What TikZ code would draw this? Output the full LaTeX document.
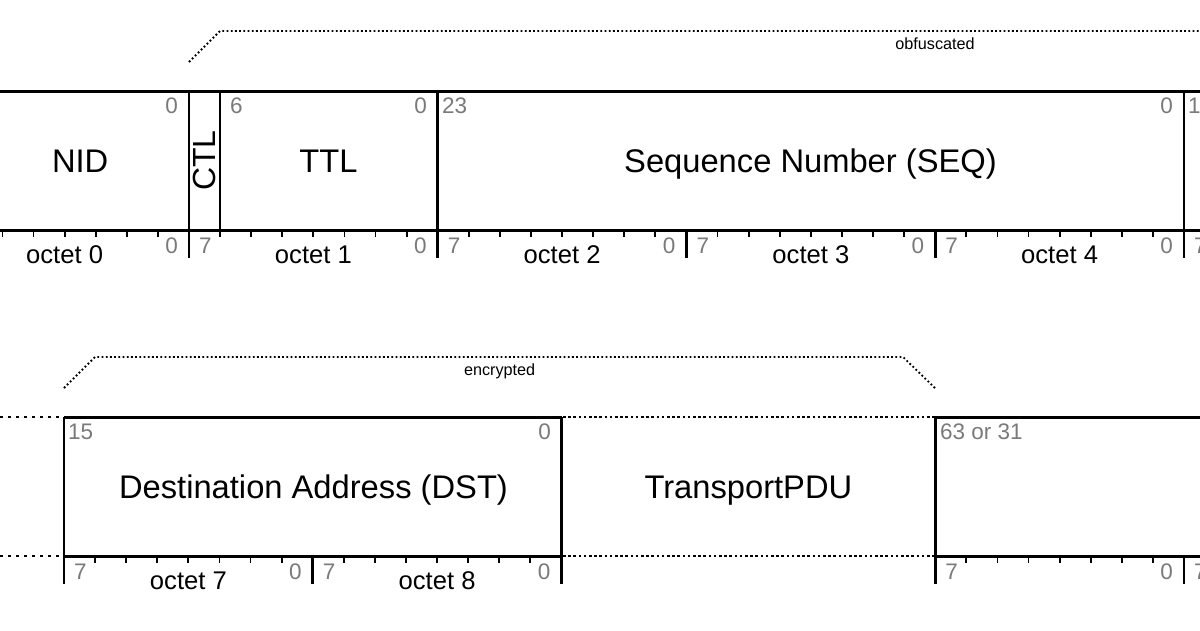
\documentclass[tikz,border=0pt]{standalone}
\usepackage{fontspec}
\setmainfont{Liberation Sans}
\definecolor{bitgray}{HTML}{7A7A7A}
\newcommand\fieldfnt{\fontsize{32.7}{36}\selectfont}
\newcommand\ctlfnt{\fontsize{32}{36}\selectfont}
\newcommand\octetfnt{\fontsize{25.6}{30}\selectfont}
\newcommand\bitfnt{\fontsize{22.5}{26}\selectfont}
\newcommand\notefnt{\fontsize{16.2}{19}\selectfont}
\tikzset{
  field/.style={font=\fieldfnt, inner sep=0pt, anchor=base},
  octlbl/.style={font=\octetfnt, inner sep=0pt, anchor=base},
  bitR/.style={font=\bitfnt, text=bitgray, inner sep=0pt, anchor=base east},
  bitL/.style={font=\bitfnt, text=bitgray, inner sep=0pt, anchor=base west},
  notelbl/.style={font=\notefnt, inner sep=0pt, anchor=base},
  frameline/.style={line width=3pt},
  sepline/.style={line width=2.6pt},
  tickmark/.style={line width=1.8pt},
  bracketline/.style={line width=1.8pt, dash pattern=on 1.8pt off 2.4pt},
  stubline/.style={line width=2.6pt, dash pattern=on 2.6pt off 5.4pt},
  pduline/.style={line width=2.6pt, dash pattern=on 2.6pt off 2.6pt}
}
\begin{document}
\begin{tikzpicture}[x=1pt,y=-1pt]
\useasboundingbox (0,0) rectangle (1200,630);
\fill[white] (0,0) rectangle (1200,630);

% ---------------- top row ----------------
\draw[frameline] (-5,91) -- (1205,91);
\draw[frameline] (-5,230) -- (1205,230);
% field separators
\draw[sepline] (189,91) -- (189,258);
\draw[sepline] (220,91) -- (220,230);
\draw[sepline] (437.75,91) -- (437.75,258);
\draw[sepline] (1184,91) -- (1184,258);
\draw[sepline] (686.5,230) -- (686.5,258);
\draw[sepline] (935.25,230) -- (935.25,258);
% bit ticks
\foreach \s in {-59.75,189,437.75,686.5,935.25,1184}
  \foreach \k in {1,...,7}
    \draw[tickmark] (\s+\k*31.09,230) -- ++(0,7);

% field names
\node[field] (nid) at (80.2,172) {NID};
\node[font=\ctlfnt, inner sep=0pt, rotate=90] (ctl) at (204.5,160.5) {CTL};
\node[field] (ttl) at (328.5,172) {TTL};
\node[field] (seq) at (810.5,172) {Sequence Number (SEQ)};

% top bit numbers
\node[bitR] (t0a) at (178,113) {0};
\node[bitL] (t6) at (230,113) {6};
\node[bitR] (t0b) at (427,113) {0};
\node[bitL] (t23) at (442,113) {23};
\node[bitR] (t0c) at (1173,113) {0};
\node[bitL] (t1) at (1188,113) {1};

% bottom bit numbers (top row)
\foreach \b/\n in {189/a,437.75/b,686.5/c,935.25/d,1184/e} {
  \node[bitR] (bz\n) at (\b-11,253) {0};
  \node[bitL] (bs\n) at (\b+10,253) {7};
}

% octet labels
\node[octlbl] (oct0) at (64.6,263) {octet 0};
\node[octlbl] (oct1) at (313.4,263) {octet 1};
\node[octlbl] (oct2) at (562.1,263) {octet 2};
\node[octlbl] (oct3) at (810.9,263) {octet 3};
\node[octlbl] (oct4) at (1059.6,263) {octet 4};

% obfuscated bracket
\draw[bracketline] (189,62) -- (220,31) -- (1210,31);
\node[notelbl] (obf) at (935,49) {obfuscated};

% ---------------- bottom row ----------------
\draw[stubline] (0,417) -- (64,417);
\draw[stubline] (0,556) -- (64,556);
\draw[frameline] (64,417) -- (561.5,417);
\draw[frameline] (64,556) -- (561.5,556);
\draw[pduline] (563,417) -- (935.25,417);
\draw[pduline] (563,556) -- (935.25,556);
\draw[frameline] (935.25,417) -- (1205,417);
\draw[frameline] (935.25,556) -- (1205,556);
% separators
\draw[sepline] (64,417) -- (64,584);
\draw[sepline] (561.5,417) -- (561.5,584);
\draw[sepline] (935.25,417) -- (935.25,584);
\draw[sepline] (312.75,556) -- (312.75,584);
\draw[sepline] (1184,556) -- (1184,584);
% ticks
\foreach \s in {64,312.75,935.25,1184}
  \foreach \k in {1,...,7}
    \draw[tickmark] (\s+\k*31.09,556) -- ++(0,7);

% field names
\node[field] (dst) at (313.5,498) {Destination Address (DST)};
\node[field] (pdu) at (748.4,498) {TransportPDU};

% top bit numbers
\node[bitL] (u15) at (68,439) {15};
\node[bitR] (u0) at (551,439) {0};
\node[bitL] (u63) at (940,439) {63 or 31};

% bottom bit numbers
\node[bitL] (v7a) at (74,579) {7};
\node[bitR] (v0a) at (301.75,579) {0};
\node[bitL] (v7b) at (322.75,579) {7};
\node[bitR] (v0b) at (550.5,579) {0};
\node[bitL] (v7c) at (945.25,579) {7};
\node[bitR] (v0c) at (1173,579) {0};
\node[bitL] (v7d) at (1194,579) {7};

% octet labels
\node[octlbl] (oct7) at (188.4,589) {octet 7};
\node[octlbl] (oct8) at (437.1,589) {octet 8};

% encrypted bracket
\draw[bracketline] (64,388) -- (95,357) -- (903,357) -- (935,388);
\node[notelbl] (enc) at (499.6,375) {encrypted};
\end{tikzpicture}
\end{document}
